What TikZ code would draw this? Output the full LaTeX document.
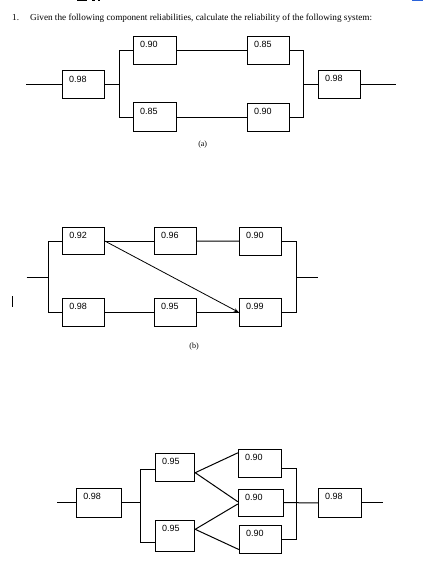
\documentclass[tikz,border=0pt]{standalone}
\usepackage{fontspec}
\setmainfont{Liberation Serif}
\newfontfamily\boxfont{Liberation Sans}
\usetikzlibrary{arrows.meta}
\definecolor{markblue}{HTML}{2B63D9}
\newcommand{\rbox}[6]{\node[comp, minimum width=#4pt, minimum height=#5pt, label={[lbl]north west:#6}] (#1) at (#2,#3) {};}
\begin{document}
\begin{tikzpicture}[x=1pt,y=-1pt,
  wire/.style={line width=1pt},
  comp/.style={draw, line width=1pt, inner sep=0pt, fill=white},
  lbl/.style={anchor=base west, inner sep=0pt, xshift=7pt, yshift=-12pt, font=\boxfont\fontsize{9}{10}\selectfont},
  sublbl/.style={inner sep=0pt, font=\fontsize{8}{9}\selectfont},
  ttl/.style={anchor=base west, inner sep=0pt, font=\fontsize{9.2}{11}\selectfont}]
\useasboundingbox (0,0) rectangle (441,586);
% page fragments
\fill[markblue] (412,0) rectangle (422.7,1.5);
\fill[black] (77,0) rectangle (87,1.2);
\fill[black] (92,0) rectangle (94.5,1.2);
\fill[black] (97.5,0) rectangle (100,1.2);
% title
\node[ttl] (num) at (12,20.5) {1.};
\node[ttl] (title) at (30,20.5) {Given the following component reliabilities, calculate the reliability of the following system:};
% ---------- (a)
\rbox{a1}{83.3}{84.5}{42}{27.6}{0.98}
\rbox{a2}{154.7}{50.2}{42.7}{28.3}{0.90}
\rbox{a3}{154.7}{117.2}{42.7}{29}{0.85}
\rbox{a4}{268.3}{50.2}{42}{28.3}{0.85}
\rbox{a5}{268.3}{117.2}{42}{27.7}{0.90}
\rbox{a6}{339.3}{84.3}{42}{28}{0.98}
\coordinate (aIn) at (26,84.5);
\coordinate (aL) at (119.3,84.5);
\coordinate (aR) at (303.3,84.3);
\coordinate (aOut) at (395.7,84.3);
\draw[wire] (aIn) -- (a1.west);
\draw[wire] (a1.east) -- (aL);
\draw[wire] (a2.west) -| (aL) |- (a3.west);
\draw[wire] (a2.east) -- (a4.west);
\draw[wire] (a3.east) -- (a5.west);
\draw[wire] (a4.east) -| (aR) |- (a5.east);
\draw[wire] (aR) -- (a6.west);
\draw[wire] (a6.east) -- (aOut);
\node[sublbl] (la) at (202.7,145) {(a)};
% ---------- (b)
\rbox{b1}{83.5}{241}{41.6}{27.4}{0.92}
\rbox{b2}{83.5}{312.3}{41.6}{28}{0.98}
\rbox{b3}{175.5}{241}{42.4}{27.4}{0.96}
\rbox{b4}{175.5}{312.3}{42.4}{28}{0.95}
\rbox{b5}{260.5}{241.2}{42.4}{27.7}{0.90}
\rbox{b6}{260.5}{312.3}{42.4}{28}{0.99}
\coordinate (bIn) at (26.7,277.3);
\coordinate (bL) at (48.3,277.3);
\coordinate (bR) at (296.7,277.3);
\coordinate (bOut) at (317.7,277.3);
\draw[wire] (bIn) -- (bL);
\draw[wire] (b1.west) -| (bL) |- (b2.west);
\draw[wire] (b1.east) -- (b3.west);
\draw[wire] (b3.east) -- (b5.west);
\draw[wire] (b2.east) -- (b4.west);
\draw[wire] (b4.east) -- (b6.west);
\draw[wire] (b5.east) -| (bR) |- (b6.east);
\draw[wire] (bR) -- (bOut);
\draw[line width=0.8pt, -{Stealth[length=5pt,width=3.5pt]}] (b1.east) -- (b6.west);
\coordinate (curA) at (12.7,296);
\coordinate (curB) at (12.7,307.3);
\draw[line width=1pt] (curA) -- (curB);
\node[sublbl] (lb) at (194,346.7) {(b)};
% ---------- (c)
\rbox{c1}{99}{502.8}{44.6}{29}{0.98}
\rbox{c2}{175}{467.3}{39.4}{28}{0.95}
\rbox{c3}{175}{535.8}{39.4}{31}{0.95}
\rbox{c4}{260}{463.2}{43.4}{27.7}{0.90}
\rbox{c5}{260.8}{502.7}{45}{26.7}{0.90}
\rbox{c6}{260.5}{539.3}{42.4}{28}{0.90}
\rbox{c7}{340}{502.8}{43.4}{29}{0.98}
\coordinate (cIn) at (57.3,502.8);
\coordinate (cL) at (140.7,502.8);
\coordinate (cR) at (296.7,502.7);
\coordinate (cOut) at (383.3,502.8);
\draw[wire] (cIn) -- (c1.west);
\draw[wire] (c1.east) -- (cL);
\draw[wire] ([yshift=-2pt]c2.west) -| (cL) |- ([yshift=-7pt]c3.west);
\draw[wire] ([yshift=-5.4pt]c2.east) -- ([yshift=-4pt]c4.north west);
\draw[wire] ([yshift=-5.4pt]c2.east) -- ([yshift=1pt]c5.west);
\draw[wire] ([yshift=6.5pt]c3.east) -- ([yshift=-1.3pt]c5.west);
\draw[wire] ([yshift=6.5pt]c3.east) -- ([yshift=4.3pt]c6.south west);
\draw[wire] ([yshift=-5pt]c4.east) -| (cR) |- (c6.east);
\draw[wire] (c5.east) -- (c7.west);
\draw[wire] (c7.east) -- (cOut);
\end{tikzpicture}
\end{document}
